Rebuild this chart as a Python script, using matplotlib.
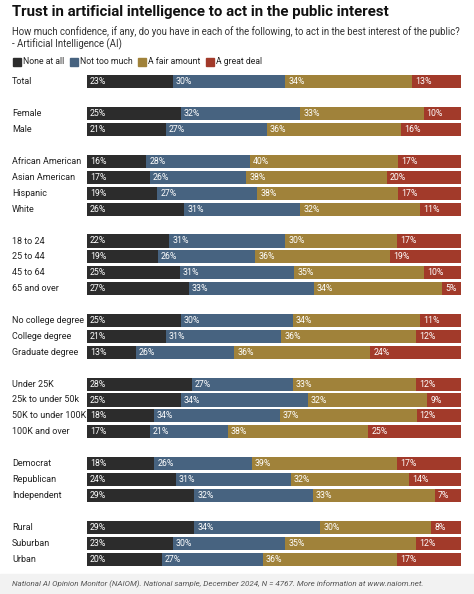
import matplotlib
matplotlib.use('Agg')
import matplotlib.pyplot as plt
import numpy as np

plt.rcParams['font.family'] = ['Roboto', 'DejaVu Sans']

# groups of rows, blank row between groups
groups = [
    ['Total'],
    ['Female', 'Male'],
    ['African American', 'Asian American', 'Hispanic', 'White'],
    ['18 to 24', '25 to 44', '45 to 64', '65 and over'],
    ['No college degree', 'College degree', 'Graduate degree'],
    ['Under 25K', '25k to under 50k', '50K to under 100K', '100K and over'],
    ['Democrat', 'Republican', 'Independent'],
    ['Rural', 'Suburban', 'Urban'],
]
none_at_all = [23, 25, 21, 16, 17, 19, 26, 22, 19, 25, 27, 25, 21, 13, 28, 25, 18, 17, 18, 24, 29, 29, 23, 20]
not_too_much = [30, 32, 27, 28, 26, 27, 31, 31, 26, 31, 33, 30, 31, 26, 27, 34, 34, 21, 26, 31, 32, 34, 30, 27]
fair_amount = [34, 33, 36, 40, 38, 38, 32, 30, 36, 35, 34, 34, 36, 36, 33, 32, 37, 38, 39, 32, 33, 30, 35, 36]
great_deal = [13, 10, 16, 17, 20, 17, 11, 17, 19, 10, 5, 11, 12, 24, 12, 9, 12, 25, 17, 14, 7, 8, 12, 17]

series = ['None at all', 'Not too much', 'A fair amount', 'A great deal']
colors = ['#2c2c2c', '#476380', '#a0823a', '#a23a2a']

labels = []
ypos = []
row = 0
for g in groups:
    for name in g:
        labels.append(name)
        ypos.append(row)
        row += 1
    row += 1
ypos = np.array(ypos)

data = np.array([none_at_all, not_too_much, fair_amount, great_deal], dtype=float)
widths = data / data.sum(axis=0) * 100

fig = plt.figure(figsize=(4.74, 5.94), dpi=100)
ax = fig.add_axes([87/474, 1 - 567/594, 374/474, 493/594])

left = np.zeros(len(labels))
for i in range(4):
    ax.barh(ypos, widths[i], left=left, height=0.82, color=colors[i], label=series[i])
    for y, l, v in zip(ypos, left, data[i]):
        ax.text(l + 0.8, y, f'{int(v)}%', color='white', va='center', ha='left', fontsize=6.3)
    left += widths[i]

ax.set_xlim(0, 100)
ax.set_ylim(ypos[-1] + 0.5, -0.5)
ax.axis('off')
for y, name in zip(ypos, labels):
    fig.text(12/474, 1 - (82 + (y) * 15.9) / 594, name, fontsize=6.5, color='#222222', va='center')

fig.text(12/474, 1 - 12/594, 'Trust in artificial intelligence to act in the public interest',
         fontsize=10.8, fontweight='bold', va='center', color='#111111')
fig.text(12/474, 1 - 32/594, 'How much confidence, if any, do you have in each of the following, to act in the best interest of the public?',
         fontsize=6.9, va='center', color='#333333')
fig.text(12/474, 1 - 44/594, '- Artificial Intelligence (AI)', fontsize=6.9, va='center', color='#333333')

# legend
lx = [13, 70, 138, 206]
for x, s, c in zip(lx, series, colors):
    fig.patches.append(plt.Rectangle((x/474, 1 - 66/594), 8/474, 8/594, color=c, transform=fig.transFigure))
    fig.text((x + 10)/474, 1 - 62/594, s, fontsize=6.2, va='center', color='#222222')

fig.patches.append(plt.Rectangle((0, 0), 1, 20/594, color='#f2f2f2', transform=fig.transFigure, zorder=-1))
fig.text(12/474, 1 - 584/594, 'National AI Opinion Monitor (NAIOM). National sample, December 2024, N = 4767. More information at www.naiom.net.',
         fontsize=5.8, style='italic', color='#555555', va='center')

fig.savefig('out.png', dpi=100)
